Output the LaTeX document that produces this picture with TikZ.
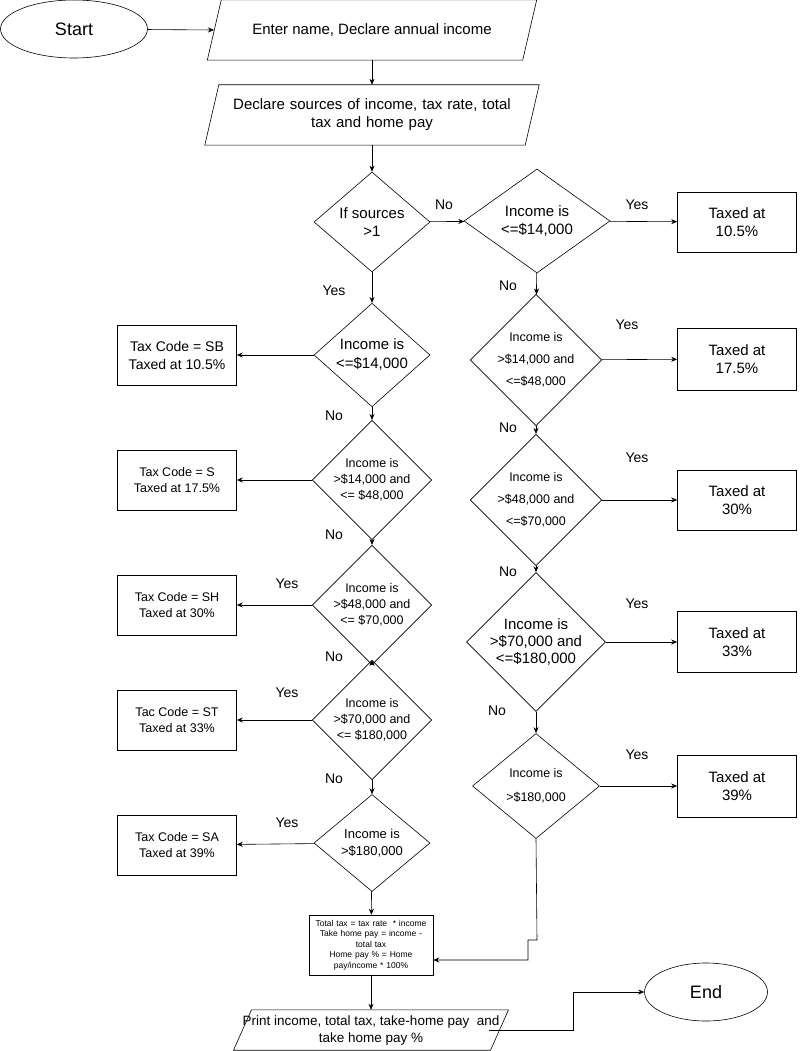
\documentclass[tikz,border=0pt]{standalone}
\usepackage{fontspec}
\setmainfont{Liberation Sans}
\usetikzlibrary{shapes.geometric,arrows.meta}
\begin{document}
\begin{tikzpicture}[x=1pt,y=-1pt,
  ar/.style={-{Stealth[length=6pt,width=5pt]},line width=0.6pt},
  dia/.style={diamond,draw,line width=0.6pt,inner sep=0pt,align=center},
  rbox/.style={draw,line width=0.6pt,minimum width=119pt,minimum height=60pt,align=center,font=\fontsize{15}{18}\selectfont},
  lbox/.style={draw,line width=0.6pt,minimum width=119pt,minimum height=60pt,align=center,font=\fontsize{12.5}{16}\selectfont},
  lab/.style={font=\fontsize{14}{16}\selectfont},
  para/.style={minimum height=60pt,align=center,inner sep=0pt}]
\useasboundingbox (0,0) rectangle (800,1051);
\newcommand{\parabox}[1]{\draw[line width=0.6pt] ([xshift=-7pt]#1.south west) -- ([xshift=7pt]#1.north west) -- ([xshift=7pt]#1.north east) -- ([xshift=-7pt]#1.south east) -- cycle;}
% top
\node[ellipse,draw,line width=0.6pt,minimum width=147pt,minimum height=58pt,font=\fontsize{18}{20}\selectfont] (start) at (74,29) {Start};
\node[para,minimum width=315pt,font=\fontsize{15}{18}\selectfont] (enter) at (372,30) {Enter name, Declare annual income};
\parabox{enter}
\node[para,minimum width=315pt,text width=320pt,font=\fontsize{15}{18}\selectfont] (decl) at (372,115) {Declare sources of income, tax rate, total\\tax and home pay};
\parabox{decl}
\node[dia,minimum width=116pt,minimum height=100pt,font=\fontsize{15}{18}\selectfont] (d0) at (372,222) {If sources\\>1};
% right column
\node[dia,minimum width=146pt,minimum height=104pt,font=\fontsize{15}{18}\selectfont] (r1) at (537,221) {Income is\\<=\$14,000};
\node[dia,minimum width=124pt,minimum height=110pt,font=\fontsize{12.5}{22}\selectfont] (r2) at (536,360) {Income is\\>\$14,000 and\\<=\$48,000};
\node[dia,minimum width=124pt,minimum height=111pt,font=\fontsize{12.5}{22}\selectfont] (r3) at (536,500) {Income is\\>\$48,000 and\\<=\$70,000};
\node[dia,minimum width=132pt,minimum height=106pt,font=\fontsize{15}{17}\selectfont] (r4) at (536,642) {Income is\\>\$70,000 and\\<=\$180,000};
\node[dia,minimum width=127pt,minimum height=105pt,font=\fontsize{12.5}{24}\selectfont] (r5) at (536,786) {Income is\\>\$180,000};
\node[rbox,minimum height=60pt] (t1) at (737,222) {Taxed at\\10.5\%};
\node[rbox,minimum height=62pt] (t2) at (737,359) {Taxed at\\17.5\%};
\node[rbox] (t3) at (737,500) {Taxed at\\ 30\%};
\node[rbox,minimum height=61pt] (t4) at (737,642) {Taxed at\\ 33\%};
\node[rbox,minimum height=62pt] (t5) at (737,786) {Taxed at\\ 39\%};
% left column
\node[dia,minimum width=116pt,minimum height=100pt,font=\fontsize{15}{19}\selectfont] (l1) at (372,355) {Income is\\<=\$14,000};
\node[dia,minimum width=116pt,minimum height=100pt,font=\fontsize{12.5}{16}\selectfont] (l2) at (372,480) {Income is\\>\$14,000 and\\<= \$48,000};
\node[dia,minimum width=116pt,minimum height=100pt,font=\fontsize{12.5}{16}\selectfont] (l3) at (372,605) {Income is\\>\$48,000 and\\<= \$70,000};
\node[dia,minimum width=116pt,minimum height=100pt,font=\fontsize{12.5}{16}\selectfont] (l4) at (372,720) {Income is\\>\$70,000 and\\<= \$180,000};
\node[dia,minimum width=116pt,minimum height=97pt,font=\fontsize{13}{17}\selectfont] (l5) at (372,843) {Income is\\>\$180,000};
\node[lbox,font=\fontsize{14}{18}\selectfont] (b1) at (177,355) {Tax Code = SB\\Taxed at 10.5\%};
\node[lbox] (b2) at (177,480) {Tax Code = S\\Taxed at 17.5\%};
\node[lbox] (b3) at (177,605) {Tax Code = SH\\Taxed at 30\%};
\node[lbox] (b4) at (177,720) {Tac Code = ST\\Taxed at 33\%};
\node[lbox] (b5) at (177,845) {Tax Code = SA\\Taxed at 39\%};
% bottom
\node[draw,line width=0.6pt,minimum width=124pt,minimum height=60pt,inner sep=1pt,text width=120pt,align=center,font=\fontsize{8.5}{10.5}\selectfont] (calc) at (371,945) {Total tax = tax rate\ \ * income\\Take home pay = income -\\total tax\\Home pay \% = Home\\pay/income * 100\%};
\node[para,minimum width=244pt,minimum height=40pt,font=\fontsize{13.5}{17}\selectfont] (print) at (371,1030) {Print income, total tax, take-home pay\ \ and\\take home pay \%};
\draw[line width=0.6pt] ([xshift=-9pt]print.south west) -- ([xshift=9pt]print.north west) -- ([xshift=9pt]print.north east) -- ([xshift=-9pt]print.south east) -- cycle;
\node[ellipse,draw,line width=0.6pt,minimum width=123pt,minimum height=58pt,font=\fontsize{18}{20}\selectfont] (end) at (706,992) {End};
\coordinate (pe) at (489,1030);
\coordinate (ein) at (214,30);
% connectors
\draw[ar] (start) -- (ein);
\draw[ar] (enter) -- (decl);
\draw[ar] (decl) -- (d0);
\draw[ar] (d0) -- (r1);
\draw[ar] (r1) -- (t1);
\draw[ar] (r1) -- (r2);
\draw[ar] (r2) -- (t2);
\draw[ar] (r2) -- (r3);
\draw[ar] (r3) -- (t3);
\draw[ar] (r3) -- (r4);
\draw[ar] (r4) -- (t4);
\draw[ar] (r4) -- (r5);
\draw[ar] (r5) -- (t5);
\draw[ar] (d0) -- (l1);
\draw[ar] (l1) -- (b1);
\draw[ar] (l1) -- (l2);
\draw[ar] (l2) -- (b2);
\draw[ar] (l2) -- (l3);
\draw[ar] (l3) -- (b3);
\draw[ar] (l3) -- (l4);
\draw[ar] (l4) -- (b4);
\draw[ar] (l4) -- (l5);
\draw[ar] (l5) -- (b5);
\draw[ar] (l5) -- (calc);
\draw[ar] (r5.south) -- (537,940) -- (528,940) -- (528,960) -- (calc.east |- 0,960);
\draw[ar] (calc) -- (print);
\draw[ar] (pe) -- (573,1030) -- (573,992) -- (end.west);
% labels
\node[lab] at (444,205) {No};
\node[lab] at (637,205) {Yes};
\node[lab] at (334,291) {Yes};
\node[lab] at (508,286) {No};
\node[lab] at (627,325) {Yes};
\node[lab] at (508,428) {No};
\node[lab] at (637,458) {Yes};
\node[lab] at (508,572) {No};
\node[lab] at (637,604) {Yes};
\node[lab] at (497,711) {No};
\node[lab] at (637,755) {Yes};
\node[lab] at (334,416) {No};
\node[lab] at (334,535) {No};
\node[lab] at (334,657) {No};
\node[lab] at (334,779) {No};
\node[lab] at (287,584) {Yes};
\node[lab] at (287,693) {Yes};
\node[lab] at (287,823) {Yes};
\end{tikzpicture}
\end{document}
